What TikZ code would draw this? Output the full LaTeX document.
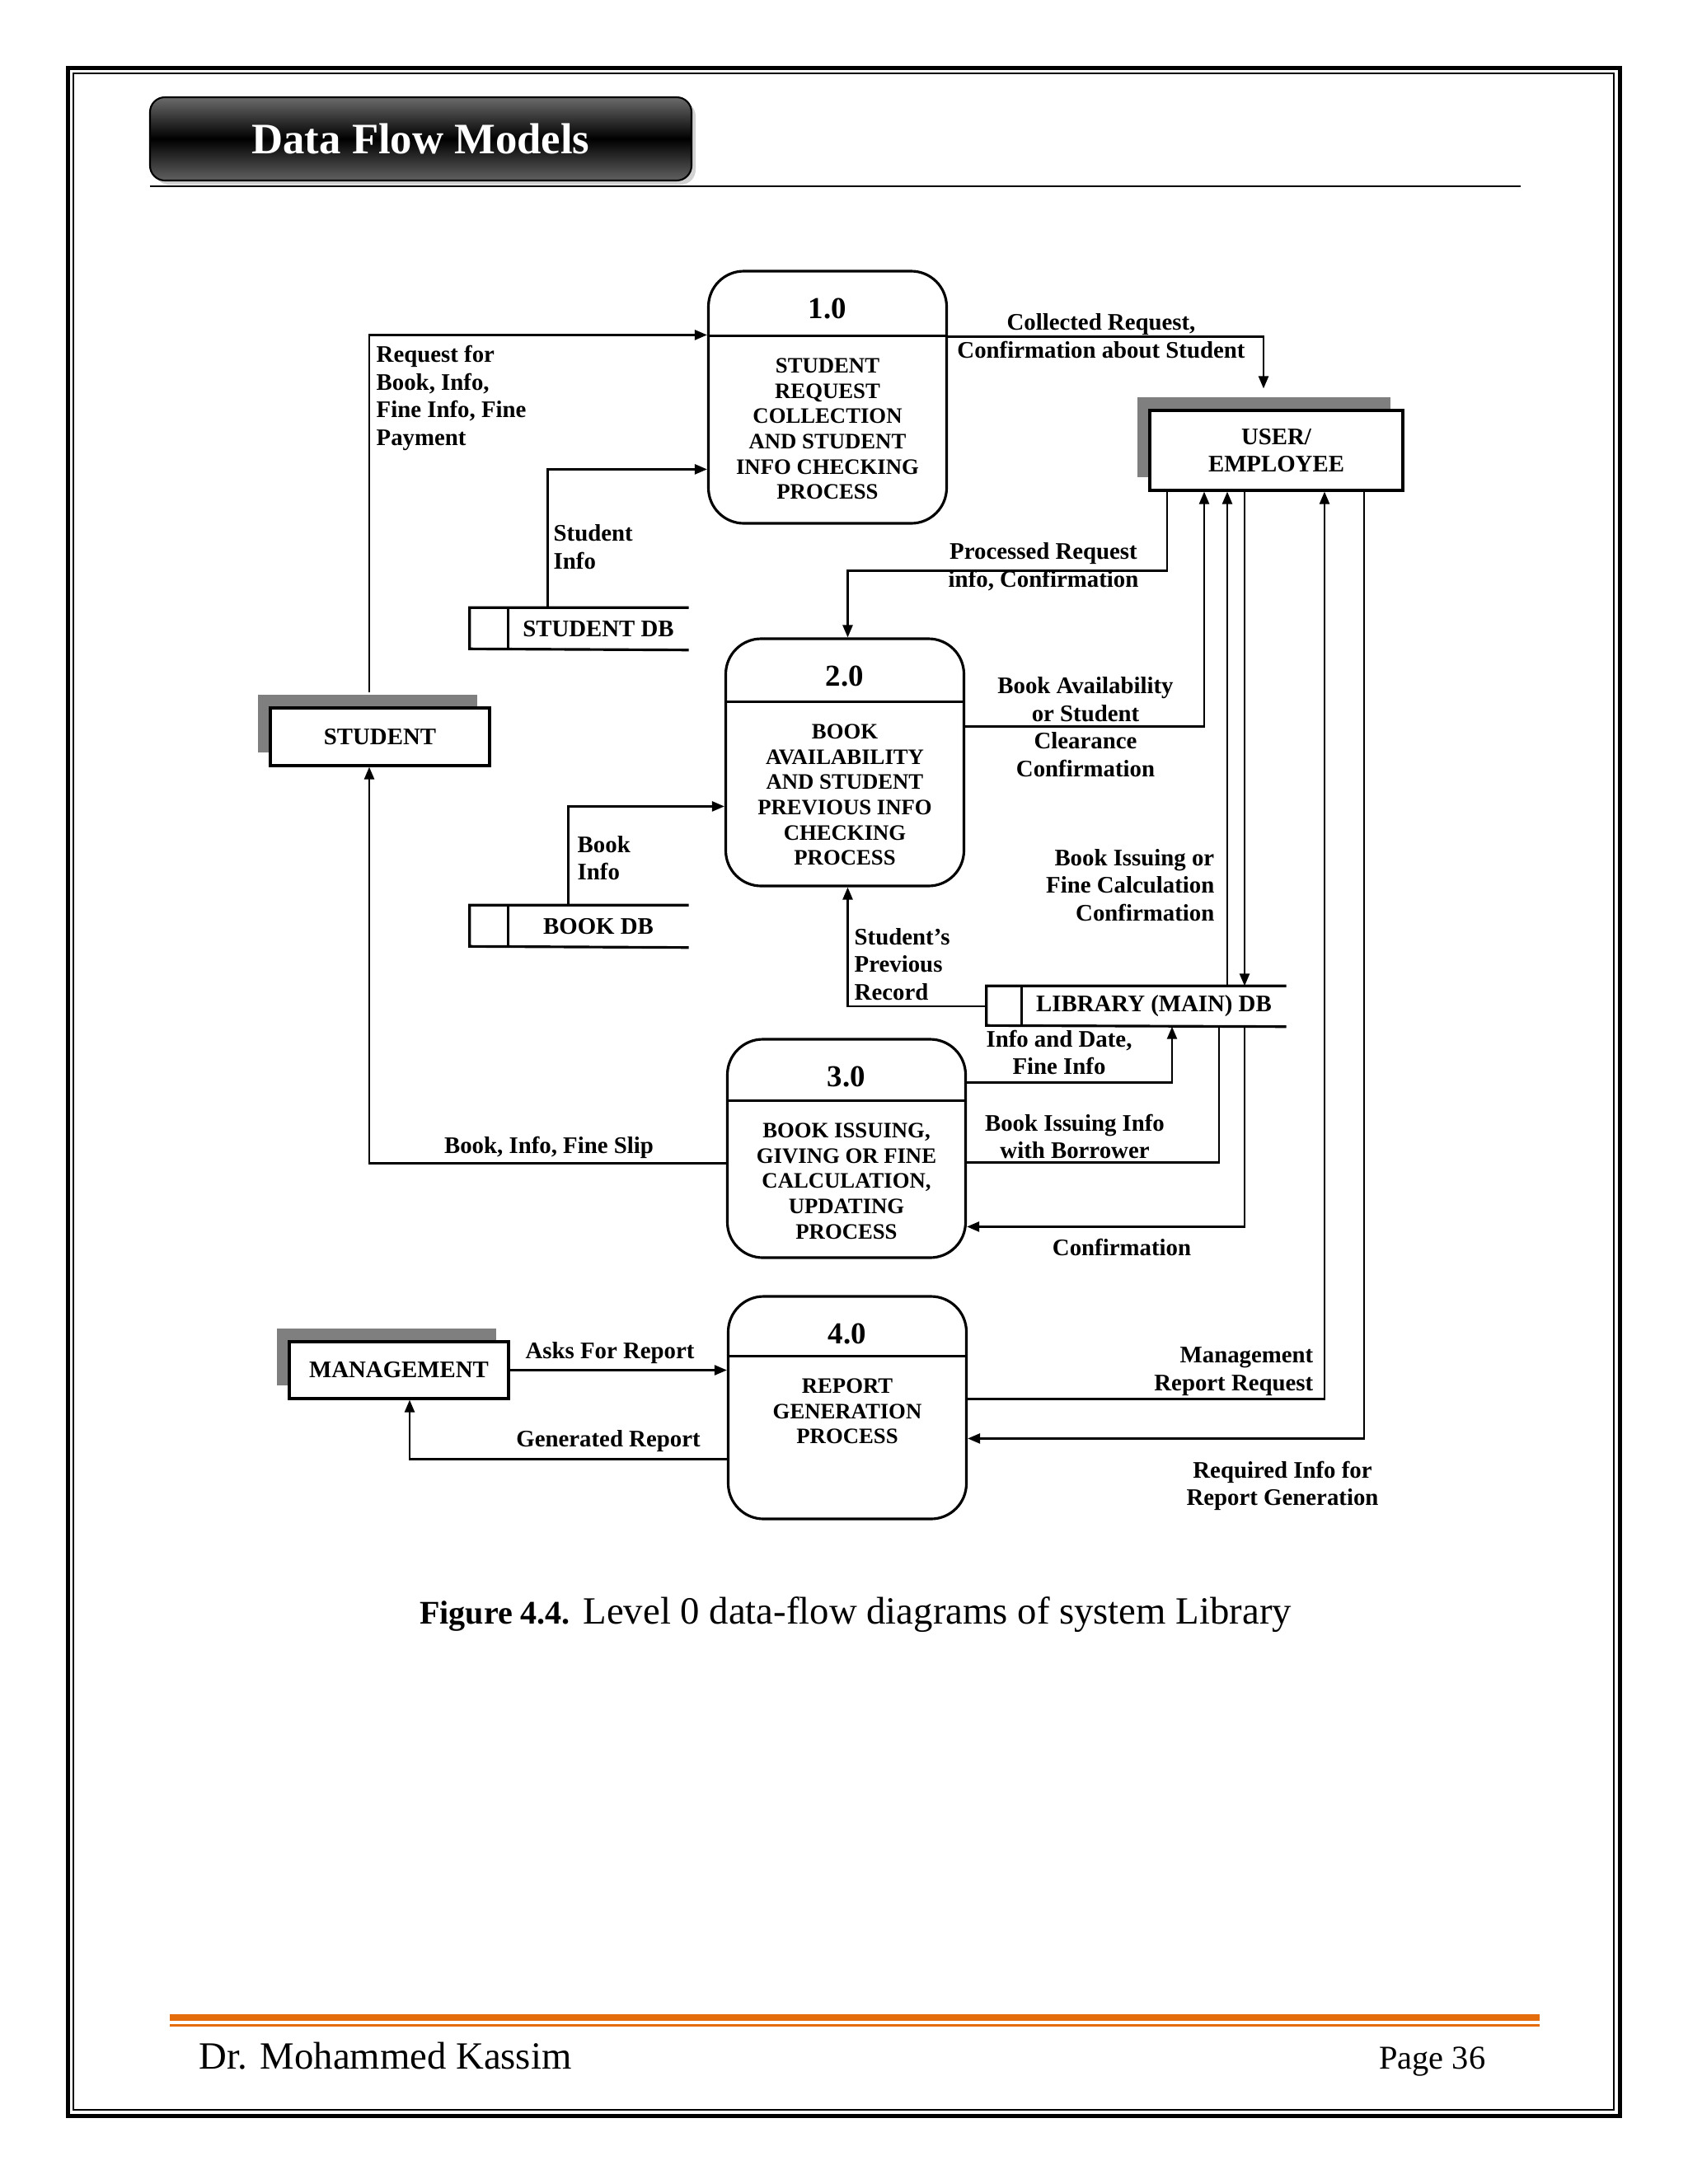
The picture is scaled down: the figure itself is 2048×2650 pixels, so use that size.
\documentclass[tikz,border=0pt]{standalone}
\usepackage{fontspec}
\setmainfont{Liberation Serif}
\usetikzlibrary{arrows.meta, shadows, calc}
\definecolor{shadowgray}{HTML}{7F7F7F}
\definecolor{footorange}{HTML}{E46C0A}
\newcommand{\PROCWIDTH}{28.9mm}
\newcommand{\PROCRADIUS}{4.3mm}
\newcommand{\SHADOWX}{-1.55mm}
\newcommand{\SHADOWY}{1.65mm}
\newcommand{\NUMDROP}{4.7mm}
\newcommand{\TEXTDROP}{2.7mm}
\newcommand{\PROCFONT}{\fontsize{7.6pt}{8.7pt}\selectfont\bfseries}
\newcommand{\LABELFONT}{\fontsize{8.2pt}{9.6pt}\selectfont\bfseries}
\newcommand{\NUMFONT}{\fontsize{10.5pt}{12pt}\selectfont\bfseries}
\newcommand{\HEADFONT}{\fontsize{15pt}{18pt}\selectfont\bfseries}
\newcommand{\CAPFONT}{\fontsize{13.3pt}{16pt}\selectfont}
\newcommand{\CAPBOLD}{\fontsize{11.4pt}{14pt}\selectfont\bfseries}

\begin{document}
\begin{tikzpicture}[x=0.1mm, y=-0.1mm,
        boxline/.style={line width=0.9pt},
        flowline/.style={line width=0.7pt},
        flow/.style={flowline, -{Triangle[length=1.5mm,width=1.2mm]}},
        proc/.style={draw, boxline, rounded corners=\PROCRADIUS, minimum width=\PROCWIDTH, inner sep=0},
        proctext/.style={font=\PROCFONT, align=center, inner sep=0, anchor=north},
        procnum/.style={font=\NUMFONT, inner sep=0},
        entity/.style={draw, boxline, fill=white, font=\LABELFONT, align=center, inner sep=0,
            drop shadow={shadow xshift=\SHADOWX, shadow yshift=\SHADOWY, fill=shadowgray, opacity=1}},
        store/.style={font=\LABELFONT, inner sep=0},
        lbl/.style={font=\LABELFONT, align=center, inner sep=0}]

        \useasboundingbox (0,0) rectangle (2048,2650);
        \fill[white] (0,0) rectangle (2048,2650);

        % 页面边框
        \draw[line width=0.5mm] (82,82) rectangle (1965,2567);
        \draw[line width=0.2mm] (89,89) rectangle (1958,2560);

        % 标题
        \node[draw=black, line width=0.6pt, rounded corners=1.8mm, minimum width=65.7mm, minimum height=10.1mm,
            top color=black!58, bottom color=black!62, middle color=black, text=white, font=\HEADFONT,
            drop shadow={shadow xshift=0.5mm, shadow yshift=-0.5mm, opacity=0.35}] (head) at (510.5,168.5) {Data Flow Models};
        \draw[line width=0.6pt] (182,226) -- (1845,226);

        % 处理过程 1.0
        \node[proc, minimum height=30.6mm] (p1) at (1004,482) {};
        \draw[boxline] ([yshift=-8mm]p1.north west) -- ([yshift=-8mm]p1.north east);
        \node[procnum] (p1num) at ([yshift=-\NUMDROP]p1.north) {1.0};
        \node[proctext] (p1txt) at ([yshift=-8mm-\TEXTDROP]p1.north) {STUDENT\\REQUEST\\COLLECTION\\AND STUDENT\\INFO CHECKING\\PROCESS};

        % 处理过程 2.0
        \node[proc, minimum height=30mm] (p2) at (1025,925) {};
        \draw[boxline] ([yshift=-7.8mm]p2.north west) -- ([yshift=-7.8mm]p2.north east);
        \node[procnum] (p2num) at ([yshift=-\NUMDROP]p2.north) {2.0};
        \node[proctext] (p2txt) at ([yshift=-7.8mm-\TEXTDROP]p2.north) {BOOK\\AVAILABILITY\\AND STUDENT\\PREVIOUS INFO\\CHECKING\\PROCESS};

        % 处理过程 3.0
        \node[proc, minimum height=26.5mm] (p3) at (1027,1393.5) {};
        \draw[boxline] ([yshift=-7.6mm]p3.north west) -- ([yshift=-7.6mm]p3.north east);
        \node[procnum] (p3num) at ([yshift=-\NUMDROP]p3.north) {3.0};
        \node[proctext] (p3txt) at ([yshift=-7.6mm-\TEXTDROP]p3.north) {BOOK ISSUING,\\GIVING OR FINE\\CALCULATION,\\UPDATING\\PROCESS};

        % 处理过程 4.0
        \node[proc, minimum height=27mm] (p4) at (1028,1708) {};
        \draw[boxline] ([yshift=-7.4mm]p4.north west) -- ([yshift=-7.4mm]p4.north east);
        \node[procnum] (p4num) at ([yshift=-\NUMDROP]p4.north) {4.0};
        \node[proctext] (p4txt) at ([yshift=-7.4mm-\TEXTDROP]p4.north) {REPORT\\GENERATION\\PROCESS};

        % 外部实体
        \node[entity, minimum width=26.6mm, minimum height=7mm] (student) at (461,894) {STUDENT};
        \node[entity, minimum width=30.7mm, minimum height=9.7mm] (user) at (1548.5,546.5) {USER/\\EMPLOYEE};
        \node[entity, minimum width=26.6mm, minimum height=6.9mm] (mgmt) at (484,1662.5) {MANAGEMENT};

        % 数据存储
        \node[store, minimum width=21.8mm, minimum height=5mm] (sdb) at (726,763) {STUDENT DB};
        \draw[boxline] (sdb.north east) -- ++(-26.6mm,0mm) -- ++(0mm,-5mm) -- (sdb.south east);
        \draw[boxline] (sdb.north west) -- (sdb.south west);
        \node[store, minimum width=21.8mm, minimum height=5mm] (bdb) at (726,1124) {BOOK DB};
        \draw[boxline] (bdb.north east) -- ++(-26.6mm,0mm) -- ++(0mm,-5mm) -- (bdb.south east);
        \draw[boxline] (bdb.north west) -- (bdb.south west);
        \node[store, minimum width=32mm, minimum height=4.8mm] (ldb) at (1400,1221) {LIBRARY (MAIN) DB};
        \draw[boxline] (ldb.north east) -- ++(-36.4mm,0mm) -- ++(0mm,-4.8mm) -- (ldb.south east);
        \draw[boxline] (ldb.north west) -- (ldb.south west);

        % 竖线的位置
        \coordinate (colST) at (448,0);
        \coordinate (colMG) at (497,0);
        \coordinate (colPR) at (1416,0);
        \coordinate (colID) at (1422,0);
        \coordinate (colBA) at (1461,0);
        \coordinate (colBW) at (1479,0);
        \coordinate (colBI) at (1489,0);
        \coordinate (colUL) at (1510,0);
        \coordinate (colCR) at (1533,0);
        \coordinate (colMR) at (1607,0);
        \coordinate (colRI) at (1655,0);

        % 数据流
        \draw[flow] ($(student.north -| colST)+(0mm,1.7mm)$) |- ([yshift=-7.9mm]p1.north west);
        \draw[flow] ([xshift=4.8mm]sdb.north west) |- ([yshift=-24.2mm]p1.north west);
        \draw[flow] ([yshift=-8.1mm]p1.north east) -| ($(user.north -| colCR)+(0mm,2.5mm)$);
        \draw[flow] (user.south -| colPR) -- ++(0mm,-9.6mm) -| ([xshift=0.35mm]p2.north);
        \draw[flow] ([yshift=-10.8mm]p2.north east) -| (user.south -| colBA);
        \draw[flow] ([xshift=7.3mm]bdb.north west) |- ([yshift=-20.5mm]p2.north west);
        \draw[flow] ([xshift=-4.4mm]ldb.west) -| ([xshift=0.35mm]p2.south);
        \draw[flow] (ldb.north -| colBI) -- (user.south -| colBI);
        \draw[flow] (user.south -| colUL) -- (ldb.north -| colUL);
        \draw[flow] (ldb.south -| colUL) |- ([yshift=-22.9mm]p3.north east);
        \draw[flow] ([yshift=-5.4mm]p3.north east) -| (ldb.south -| colID);
        \draw[flowline] ([yshift=-15.1mm]p3.north east) -| (ldb.south -| colBW);
        \draw[flow] ([yshift=-15.2mm]p3.north west) -| (student.south -| colST);
        \draw[flow] (mgmt.east) -- (p4.west |- mgmt.east);
        \draw[flow] ([yshift=-19.9mm]p4.north west) -| (mgmt.south -| colMG);
        \draw[flow] ([yshift=-12.6mm]p4.north east) -| (user.south -| colMR);
        \draw[flow] (user.south -| colRI) |- ([yshift=-17.4mm]p4.north east);

        % 标注
        \node[lbl, align=left, anchor=west] (lReq) at (456,483) {Request for\\Book, Info,\\Fine Info, Fine\\Payment};
        \node[lbl, align=left, anchor=west] (lSI) at (671,664) {Student\\Info};
        \node[lbl] (lCR) at (1336,408) {Collected Request,\\Confirmation about Student};
        \node[lbl] (lPR) at (1266,688) {Processed Request\\info, Confirmation};
        \node[lbl] (lBA) at (1317,882) {Book Availability\\or Student\\Clearance\\Confirmation};
        \node[lbl, align=left, anchor=west] (lBI) at (700,1041) {Book\\Info};
        \node[lbl, align=right, anchor=east] (lBC) at (1474,1074) {Book Issuing or\\Fine Calculation\\Confirmation};
        \node[lbl, align=left, anchor=west] (lSPR) at (1036,1170) {Student’s\\Previous\\Record};
        \node[lbl] (lID) at (1285,1277) {Info and Date,\\Fine Info};
        \node[lbl] (lBW) at (1304,1379) {Book Issuing Info\\with Borrower};
        \node[lbl] (lConf) at (1361,1513) {Confirmation};
        \node[lbl] (lFS) at (666,1392) {Book, Info, Fine Slip};
        \node[lbl] (lAR) at (740,1642) {Asks For Report};
        \node[lbl] (lGR) at (738,1749) {Generated Report};
        \node[lbl, align=right, anchor=east] (lMR) at (1594,1664) {Management\\Report Request};
        \node[lbl] (lRI) at (1556,1803) {Required Info for\\Report Generation};

        % 图题
        \node[anchor=base, font=\CAPFONT, inner sep=0] (caption) at (1038,1970) {{\CAPBOLD Figure 4.4.} Level 0 data-flow diagrams of system Library};

        % 页脚
        \fill[footorange] (206,2444) rectangle (1868,2452);
        \fill[footorange] (206,2456) rectangle (1868,2459);
        \node[anchor=base west, font=\CAPFONT, inner sep=0] (author) at (241,2510) {Dr. Mohammed Kassim};
        \node[anchor=base east, font=\fontsize{11.5pt}{14pt}\selectfont, inner sep=0] (pagenum) at (1803,2510) {Page 36};

    \end{tikzpicture}
\end{document}
